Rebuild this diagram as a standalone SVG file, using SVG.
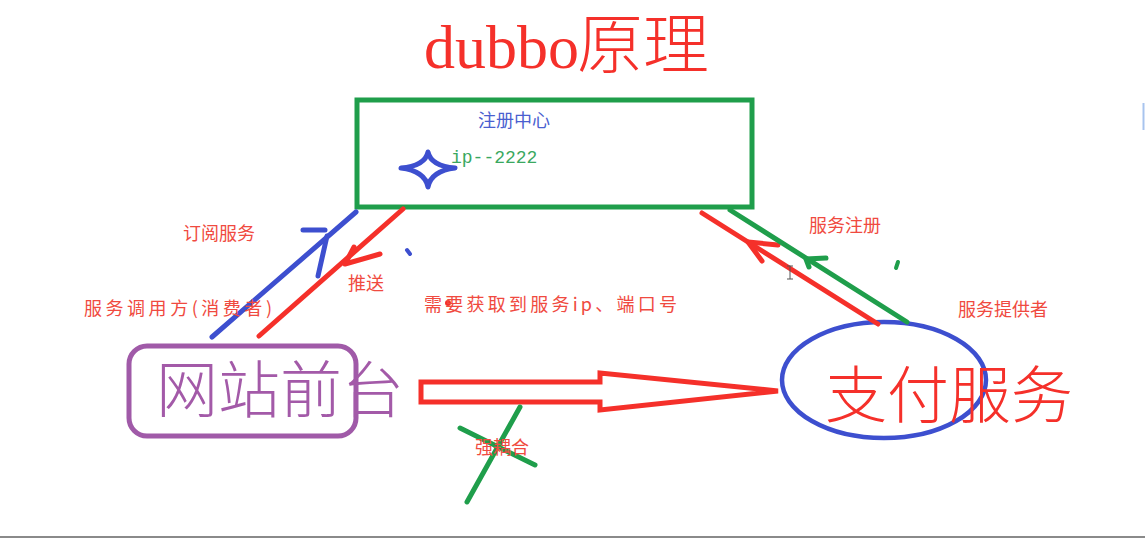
<svg xmlns="http://www.w3.org/2000/svg" width="1145" height="538" viewBox="0 0 1145 538">
<defs>
<style>
.lbl{font-family:"Noto Sans CJK SC","Liberation Sans",sans-serif;font-size:18px;fill:#f04a40}
.big{font-family:"Noto Sans CJK SC","Liberation Serif",serif;font-size:62px;font-weight:300}
.red{stroke:#f5302a;fill:none;stroke-width:5;stroke-linecap:round;stroke-linejoin:round}
.grn{stroke:#1f9e4b;fill:none;stroke-width:5;stroke-linecap:round;stroke-linejoin:round}
.blu{stroke:#3d4fcf;fill:none;stroke-width:5;stroke-linecap:round;stroke-linejoin:round}
</style>
</defs>
<rect width="1145" height="538" fill="#ffffff"/>

<g id="title">
<text x="424" y="68" font-family="'Liberation Serif',serif" font-size="62" fill="#f5302a">dubbo</text>
<text x="577" y="68" font-family="'Noto Sans CJK SC',serif" font-size="66" font-weight="300" fill="#f5302a">原理</text>
</g>

<g id="registry">
<rect x="357" y="100" width="395" height="107" fill="none" stroke="#1f9e4b" stroke-width="5"/>
<text x="478" y="127" font-family="'Noto Sans CJK SC',sans-serif" font-size="18" fill="#4a5fd0">注册中心</text>
<text x="451" y="163" font-family="'Liberation Mono',monospace" font-size="18" fill="#3aa860">ip--2222</text>
<path d="M428,152 Q431,166 455,168 Q431,171 428,187 Q425,171 401,168 Q425,166 428,152 Z" fill="none" stroke="#3d4fcf" stroke-width="5" stroke-linejoin="round"/>
</g>

<g id="consumer">
<rect x="129" y="346" width="227" height="90" rx="18" ry="18" fill="none" stroke="#a05aa8" stroke-width="5"/>
<text x="156" y="413" class="big" fill="#a35aa8">网站前台</text>
</g>

<g id="provider">
<ellipse cx="884" cy="380" rx="102" ry="58" fill="none" stroke="#3d4fcf" stroke-width="4.5"/>
<text x="825" y="418" class="big" fill="#f5302a">支付服务</text>
</g>

<g id="connectors">
<path class="blu" d="M212,337 L356,212"/>
<path class="blu" d="M303,230 L325,230 M327,236 L318,276"/>
<path class="red" d="M403,209 L259,336"/>
<path class="red" d="M380,254 L345,264 L354,247"/>
<path class="red" d="M702,213 L878,324"/>
<path class="red" d="M778,245 L748,242 L762,261"/>
<path class="grn" d="M730,210 L907,322"/>
<path class="grn" d="M826,258 L806,259 L809,267"/>
<polygon points="421,382 600,382 600,373 778,391 600,410 600,402 421,402" fill="none" stroke="#f5302a" stroke-width="5" stroke-linejoin="miter"/>
<path class="grn" d="M520,407 L467,502 M460,428 L535,465"/>
</g>

<g id="marks">
<path d="M407,250 L410,254" stroke="#3d4fcf" stroke-width="4" stroke-linecap="round"/>
<path d="M898,262 L896,268" stroke="#1f9e4b" stroke-width="4" stroke-linecap="round"/>
<circle cx="448" cy="303" r="3" fill="#f5302a"/>
<path d="M787,266 L793,266 M790,266 L790,279 M787,279 L793,279" stroke="#555" stroke-width="1" fill="none"/>
<line x1="1143.5" y1="103" x2="1143.5" y2="130" stroke="#a8c4ee" stroke-width="2"/>
<line x1="0" y1="537" x2="1145" y2="537" stroke="#8a8a8a" stroke-width="2"/>
</g>

<g id="labels">
<text x="183" y="240" class="lbl">订阅服务</text>
<text x="348" y="290" class="lbl">推送</text>
<text x="84" y="315" class="lbl" textLength="188" lengthAdjust="spacing">服务调用方(消费者)</text>
<text x="424" y="311" class="lbl" textLength="253" lengthAdjust="spacing">需要获取到服务ip、端口号</text>
<text x="809" y="232" class="lbl">服务注册</text>
<text x="958" y="316" class="lbl">服务提供者</text>
<text x="475" y="454" class="lbl">强耦合</text>
</g>
</svg>
